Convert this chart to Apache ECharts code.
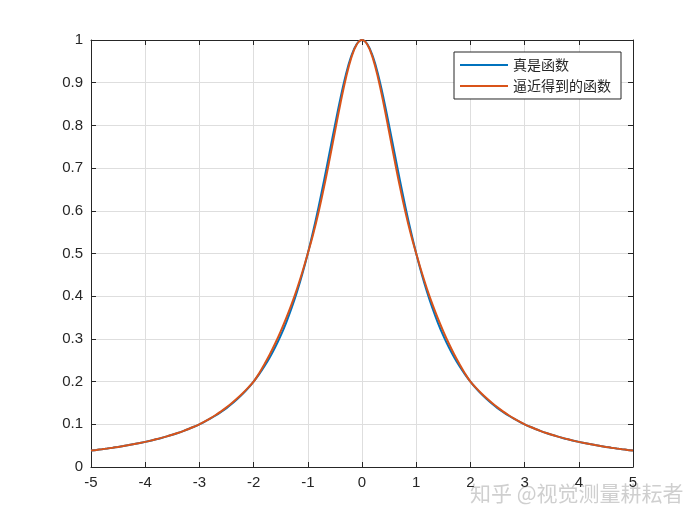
<!DOCTYPE html>
<html><head><meta charset="utf-8">
<script src="https://cdn.jsdelivr.net/npm/echarts@6/dist/echarts.min.js"></script>
<style>html,body{margin:0;padding:0;background:#fff}#c{width:700px;height:525px}</style>
</head><body><div id="c"></div>
<script>
var xValues = [-5,-4.9,-4.8,-4.7,-4.6,-4.5,-4.4,-4.3,-4.2,-4.1,-4,-3.9,-3.8,-3.7,-3.6,-3.5,-3.4,-3.3,-3.2,-3.1,-3,-2.9,-2.8,-2.7,-2.6,-2.5,-2.4,-2.3,-2.2,-2.1,-2,-1.9,-1.8,-1.7,-1.6,-1.5,-1.4,-1.3,-1.2,-1.1,-1,-0.9,-0.8,-0.7,-0.6,-0.5,-0.4,-0.3,-0.2,-0.1,0,0.1,0.2,0.3,0.4,0.5,0.6,0.7,0.8,0.9,1,1.1,1.2,1.3,1.4,1.5,1.6,1.7,1.8,1.9,2,2.1,2.2,2.3,2.4,2.5,2.6,2.7,2.8,2.9,3,3.1,3.2,3.3,3.4,3.5,3.6,3.7,3.8,3.9,4,4.1,4.2,4.3,4.4,4.5,4.6,4.7,4.8,4.9,5];
var trueValues = [0.03846,0.03998,0.0416,0.04331,0.04513,0.04706,0.04912,0.05131,0.05365,0.05615,0.05882,0.06169,0.06477,0.06807,0.07163,0.07547,0.07962,0.0841,0.08897,0.09425,0.1,0.1063,0.1131,0.1206,0.1289,0.1379,0.1479,0.159,0.1712,0.1848,0.2,0.2169,0.2358,0.2571,0.2809,0.3077,0.3378,0.3717,0.4098,0.4525,0.5,0.5525,0.6098,0.6711,0.7353,0.8,0.8621,0.9174,0.9615,0.9901,1,0.9901,0.9615,0.9174,0.8621,0.8,0.7353,0.6711,0.6098,0.5525,0.5,0.4525,0.4098,0.3717,0.3378,0.3077,0.2809,0.2571,0.2358,0.2169,0.2,0.1848,0.1712,0.159,0.1479,0.1379,0.1289,0.1206,0.1131,0.1063,0.1,0.09425,0.08897,0.0841,0.07962,0.07547,0.07163,0.06807,0.06477,0.06169,0.05882,0.05615,0.05365,0.05131,0.04912,0.04706,0.04513,0.04331,0.0416,0.03998,0.03846];
var approxValues = [0.03846,0.03998,0.0416,0.04331,0.04513,0.04706,0.04912,0.05131,0.05365,0.05615,0.05882,0.06175,0.06487,0.0682,0.07175,0.07557,0.07968,0.08413,0.089,0.09427,0.1,0.1067,0.1139,0.1218,0.1304,0.1397,0.1497,0.1608,0.1727,0.1858,0.2,0.2189,0.2408,0.2641,0.2899,0.3177,0.3478,0.3807,0.4168,0.4565,0.5,0.5455,0.5978,0.6561,0.7193,0.785,0.8501,0.9094,0.9575,0.989,1,0.989,0.9575,0.9094,0.8501,0.785,0.7193,0.6561,0.5978,0.5455,0.5,0.4565,0.4168,0.3807,0.3478,0.3177,0.2899,0.2641,0.2408,0.2189,0.2,0.1858,0.1727,0.1608,0.1497,0.1397,0.1304,0.1218,0.1139,0.1067,0.1,0.09427,0.089,0.08413,0.07968,0.07557,0.07175,0.0682,0.06487,0.06175,0.05882,0.05615,0.05365,0.05131,0.04912,0.04706,0.04513,0.04331,0.0416,0.03998,0.03846];
var seriesNames = ['真是函数','逼近得到的函数'];
var xTicks = {min:-5,max:5,interval:1};
var yTicks = {min:0,max:1,interval:0.1};

function pairs(xs, ys){ return xs.map(function(x,i){return [x, ys[i]];}); }

var chart = echarts.init(document.getElementById('c'), null, {renderer:'canvas'});
var axisCol = '#262626';
var labelFont = {color:axisCol, fontSize:15, fontFamily:'Liberation Sans, Arial, sans-serif'};
function baseAxis(pos, t, showLabel, showGrid){
  return {
    type:'value', position:pos, min:t.min, max:t.max, interval:t.interval,
    axisLine:{show:true, onZero:false, lineStyle:{color:axisCol, width:1}},
    axisTick:{show:true, inside:true, length:5, lineStyle:{color:axisCol}},
    axisLabel:Object.assign({show:showLabel, margin:8}, labelFont),
    splitLine:{show:showGrid, lineStyle:{color:'#dedede', width:1}}
  };
}
var option = {
  animation:false,
  backgroundColor:'#ffffff',
  grid:{left:91, right:67, top:40, bottom:58},
  xAxis:[baseAxis('bottom', xTicks, true, true), baseAxis('top', xTicks, false, false)],
  yAxis:[baseAxis('left', yTicks, true, true), baseAxis('right', yTicks, false, false)],
  legend:{
    orient:'vertical', right:79, top:52, padding:[6,10,6,6], itemGap:7,
    itemWidth:48, itemHeight:2, icon:'rect',
    borderColor:'#262626', borderWidth:1, backgroundColor:'#fff',
    textStyle:{fontSize:14, color:'#262626', fontFamily:'Noto Sans CJK SC'},
    data:seriesNames
  },
  series:[
    {name:seriesNames[0], type:'line', showSymbol:false, smooth:0.4, data:pairs(xValues,trueValues), lineStyle:{color:'#0072BD', width:2}, itemStyle:{color:'#0072BD'}},
    {name:seriesNames[1], type:'line', showSymbol:false, smooth:0.4, data:pairs(xValues,approxValues), lineStyle:{color:'#D95319', width:2}, itemStyle:{color:'#D95319'}}
  ],
  graphic:[{type:'text', left:470, top:483, style:{text:'知乎 @视觉测量耕耘者', fill:'rgba(160,160,160,0.5)', fontSize:21, fontFamily:'Noto Sans CJK SC'}}]
};
chart.setOption(option);
</script></body></html>
